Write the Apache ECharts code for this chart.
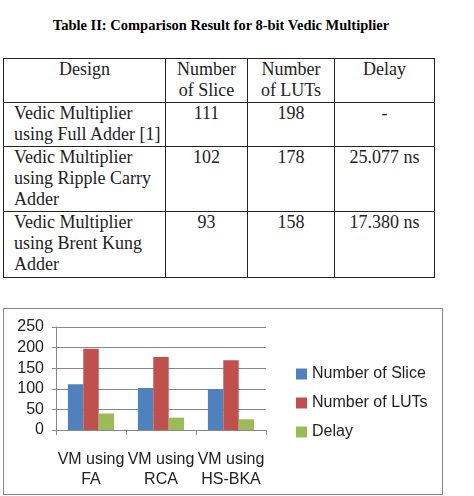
<!DOCTYPE html>
<html>
<head>
<meta charset="utf-8">
<style>
  body { margin: 0; background: #fff; width: 474px; height: 496px; position: relative; overflow: hidden; }
  #title { position: absolute; left: 0; top: 17px; width: 442px; text-align: center; font: bold 14.5px "Liberation Serif", serif; }
  table { position: absolute; left: 3px; top: 58px; border-collapse: collapse; font: 18px "Liberation Serif", serif; color: #222; }
  td { border: 1.5px solid #222; vertical-align: top; padding: 0 2px 0 10px; line-height: 21px; height: auto; }
  td.c { text-align: center; padding: 0 2px; }
  #container { position: absolute; left: 3px; top: 308px; width: 438px; height: 185px; border: 1px solid #888; }
</style>
</head>
<body>
<div id="title">Table II: Comparison Result for 8-bit Vedic Multiplier</div>
<table>
  <tr style="height:44px"><td class="c" style="width:157px">Design</td><td class="c" style="width:77px">Number<br>of Slice</td><td class="c" style="width:82px">Number<br>of LUTs</td><td class="c" style="width:95px">Delay</td></tr>
  <tr style="height:44px"><td>Vedic Multiplier<br>using Full Adder [1]</td><td class="c">111</td><td class="c">198</td><td class="c">-</td></tr>
  <tr style="height:65px"><td>Vedic Multiplier<br>using Ripple Carry<br>Adder</td><td class="c">102</td><td class="c">178</td><td class="c">25.077 ns</td></tr>
  <tr style="height:66px"><td>Vedic Multiplier<br>using Brent Kung<br>Adder</td><td class="c">93</td><td class="c">158</td><td class="c">17.380 ns</td></tr>
</table>
<div id="container"></div>
<script src="https://cdn.jsdelivr.net/npm/echarts@6/dist/echarts.min.js"></script>
<script>
  const categories = ['VM using\nFA', 'VM using\nRCA', 'VM using\nHS-BKA'];
  const slices = [111, 102, 99];
  const luts = [197, 177, 169];
  const delay = [40, 30, 26];

  var chart = echarts.init(document.getElementById('container'));
  var font = 'Liberation Sans';
  chart.setOption({
    animation: false,
    color: ['#4F81BD', '#C0504D', '#9BBB59'],
    grid: { left: 52, right: 176, top: 18, bottom: 64 },
    legend: {
      orient: 'vertical', left: 287, top: 52, itemGap: 13,
      itemWidth: 11, itemHeight: 11, icon: 'rect',
      textStyle: { fontFamily: font, fontSize: 16, color: '#222' }
    },
    xAxis: {
      type: 'category', data: categories,
      axisLine: { lineStyle: { color: '#888' } },
      axisTick: { show: true, length: 5, lineStyle: { color: '#888' } },
      axisLabel: { fontFamily: font, fontSize: 16, color: '#222', margin: 20, lineHeight: 20, interval: 0 }
    },
    yAxis: {
      type: 'value', min: 0, max: 250, interval: 50,
      axisLine: { show: true, lineStyle: { color: '#888' } },
      axisTick: { show: true, length: 4, lineStyle: { color: '#888' } },
      splitLine: { lineStyle: { color: '#888' } },
      axisLabel: { fontFamily: font, fontSize: 16, color: '#222', margin: 12 }
    },
    series: [
      { name: 'Number of Slice', type: 'bar', data: slices, barGap: '0%', barCategoryGap: '34%' },
      { name: 'Number of LUTs', type: 'bar', data: luts },
      { name: 'Delay', type: 'bar', data: delay }
    ]
  });
</script>
</body>
</html>
